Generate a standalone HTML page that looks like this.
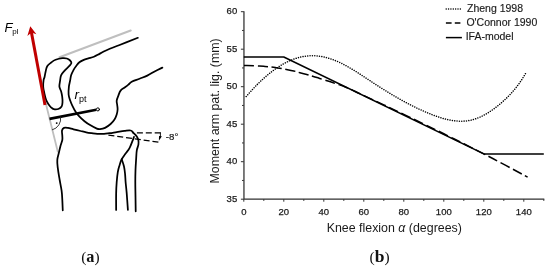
<!DOCTYPE html>
<html lang="en">
<head>
<meta charset="utf-8">
<title>Figure</title>
<style>
html,body{margin:0;padding:0;background:#fff;}
body{width:550px;height:269px;position:relative;overflow:hidden;}
</style>
</head>
<body>
<svg width="550" height="269" viewBox="0 0 550 269" style="position:absolute;left:0;top:0">
<g fill="none" stroke-linecap="round" stroke-linejoin="round">
<line x1="59.5" y1="57.3" x2="130.7" y2="30.6" stroke="#bfbfbf" stroke-width="2.1"/>
<line x1="45.2" y1="101" x2="57.8" y2="151.7" stroke="#bfbfbf" stroke-width="1.8"/>
<g stroke="#000" stroke-width="1.75">
<path d="M43.20 86.70 C43.06 84.29 43.37 81.69 43.60 80.00 C43.83 78.31 44.14 78.79 44.50 77.30 C44.86 75.81 45.11 73.70 45.60 71.70 C46.09 69.70 46.19 67.86 47.20 66.20 C48.21 64.54 49.69 63.65 51.20 62.50 C52.71 61.35 53.60 60.57 55.60 59.80 C57.60 59.03 60.28 58.43 62.30 58.20 C64.32 57.97 65.40 58.09 66.80 58.50 C68.20 58.91 69.27 59.69 70.10 60.50 C70.93 61.31 71.49 62.08 71.40 63.00 C71.31 63.92 70.73 64.32 69.60 65.60 C68.47 66.88 66.61 68.39 65.10 70.10 C63.59 71.81 62.10 73.19 61.20 75.10 C60.30 77.01 60.42 78.61 60.10 80.70 C59.78 82.79 59.22 84.81 59.40 86.70 C59.58 88.59 60.60 89.40 61.10 91.20 C61.60 93.00 61.95 94.70 62.20 96.70 C62.45 98.70 62.61 100.54 62.50 102.30 C62.39 104.06 62.36 105.29 61.60 106.50 C60.84 107.71 59.70 108.51 58.30 109.00 C56.90 109.49 55.11 109.51 53.80 109.20 C52.49 108.89 51.99 108.24 51.00 107.30 C50.01 106.36 49.20 105.40 48.30 104.00 C47.40 102.60 46.70 101.41 46.00 99.50 C45.30 97.59 44.90 95.70 44.40 93.40 C43.90 91.10 43.34 89.11 43.20 86.70Z"/>
<path d="M137.90 37.80 C134.50 39.13 124.74 42.91 119.00 45.20 C113.26 47.49 109.51 48.93 106.00 50.50 C102.49 52.07 101.68 52.78 99.50 53.90 C97.32 55.02 95.92 55.89 93.90 56.70 C91.88 57.51 90.12 57.83 88.30 58.40 C86.48 58.97 85.40 59.15 83.80 59.85 C82.20 60.55 80.80 61.16 79.40 62.30 C78.00 63.44 77.04 64.85 76.00 66.20 C74.96 67.55 74.46 68.20 73.60 69.80 C72.74 71.40 71.83 73.14 71.20 75.10 C70.57 77.06 70.51 78.61 70.10 80.70 C69.69 82.79 69.17 84.22 68.90 86.70 C68.63 89.18 68.37 92.02 68.60 94.50 C68.83 96.98 69.53 98.50 70.20 100.50 C70.87 102.50 71.33 103.58 72.30 105.60 C73.27 107.62 74.30 109.70 75.60 111.70 C76.90 113.70 77.90 114.99 79.50 116.70 C81.10 118.41 82.59 119.69 84.50 121.20 C86.41 122.71 87.89 123.77 90.10 125.10 C92.31 126.43 95.02 127.88 96.80 128.60 C98.58 129.32 98.52 129.23 100.00 129.10 C101.48 128.97 103.09 128.82 105.00 127.90 C106.91 126.98 108.89 125.51 110.60 124.00 C112.31 122.49 113.40 121.21 114.50 119.50 C115.60 117.79 116.14 116.30 116.70 114.50 C117.26 112.70 117.51 111.21 117.60 109.50 C117.69 107.79 117.36 106.60 117.20 105.00 C117.04 103.40 116.48 102.29 116.70 100.60 C116.92 98.91 117.70 97.40 118.40 95.60 C119.10 93.80 119.41 92.09 120.60 90.60 C121.79 89.11 123.60 88.38 125.00 87.30 C126.40 86.22 127.19 85.61 128.40 84.60 C129.61 83.59 129.70 82.76 131.70 81.70 C133.70 80.64 136.69 79.80 139.50 78.70 C142.31 77.60 144.49 76.95 147.30 75.60 C150.11 74.25 152.38 72.64 155.10 71.20 C157.82 69.76 161.09 68.25 162.40 67.60"/>
<path d="M62.75 210.30 C62.67 208.37 62.51 203.13 62.30 199.60 C62.09 196.07 62.09 194.32 61.60 190.70 C61.11 187.08 60.27 183.51 59.60 179.50 C58.93 175.49 58.26 171.91 57.85 168.40 C57.44 164.89 57.09 162.90 57.30 160.00 C57.51 157.10 58.41 154.89 59.00 152.30 C59.59 149.71 60.01 147.81 60.60 145.60 C61.19 143.39 61.99 141.80 62.30 140.00 C62.61 138.20 62.35 137.31 62.30 135.60 C62.25 133.89 61.69 131.89 62.00 130.50 C62.31 129.11 62.94 128.37 64.00 127.90 C65.06 127.43 66.19 127.65 67.90 127.90 C69.61 128.15 71.21 128.74 73.50 129.30 C75.79 129.86 78.31 130.46 80.60 131.00 C82.89 131.54 84.20 131.90 86.20 132.30 C88.20 132.70 89.70 132.91 91.70 133.20 C93.70 133.49 95.09 133.77 97.30 133.90 C99.51 134.03 101.79 134.03 104.00 133.90 C106.21 133.77 107.31 133.52 109.60 133.20 C111.89 132.88 114.02 132.51 116.70 132.10 C119.38 131.69 122.00 131.19 124.50 130.90 C127.00 130.61 129.00 130.16 130.60 130.50 C132.20 130.84 132.28 131.74 133.40 132.80 C134.52 133.86 135.90 135.05 136.80 136.40 C137.70 137.75 138.11 138.81 138.40 140.30 C138.69 141.79 138.69 142.90 138.40 144.70 C138.11 146.50 137.20 147.91 136.80 150.30 C136.40 152.69 136.43 154.45 136.20 158.00 C135.97 161.55 135.66 165.68 135.50 170.00 C135.34 174.32 135.30 177.14 135.30 182.00 C135.30 186.86 135.43 191.73 135.50 197.00 C135.57 202.27 135.66 208.73 135.70 211.30"/>
<path d="M134.00 136.90 C133.69 137.71 133.11 139.38 132.30 141.40 C131.49 143.42 130.71 145.90 129.50 148.10 C128.29 150.30 127.00 151.59 125.60 153.60 C124.20 155.61 122.80 157.13 121.70 159.25 C120.60 161.37 120.20 163.09 119.50 165.40 C118.80 167.71 118.30 169.11 117.80 172.10 C117.30 175.09 117.00 178.21 116.70 182.00 C116.40 185.79 116.25 188.13 116.15 193.15 C116.05 198.17 116.15 206.89 116.15 209.90"/>
<path d="M121.70 159.25 C122.11 160.56 123.39 163.79 124.00 166.50 C124.61 169.21 124.81 171.51 125.10 174.30 C125.39 177.09 125.31 178.61 125.60 182.00 C125.89 185.39 126.29 188.13 126.70 193.15 C127.11 198.17 127.68 206.89 127.90 209.90"/>
</g>
<line x1="49.5" y1="118.9" x2="96.3" y2="109.7" stroke="#000" stroke-width="2.7" stroke-linecap="butt"/>
<circle cx="97.9" cy="109.4" r="1.55" stroke="#000" stroke-width="1" fill="#fff"/>
<path d="M52.4 129.8 A11.2 11.2 0 0 0 60.6 117" stroke="#222" stroke-width="0.9"/>
<circle cx="56.7" cy="123.1" r="0.95" fill="#000" stroke="none"/>
<g stroke="#000" stroke-width="1.35" stroke-dasharray="6 2.9" stroke-linecap="butt">
<line x1="160.7" y1="132.8" x2="132.5" y2="132.8"/>
<line x1="158.4" y1="142.2" x2="106" y2="134.7"/>
</g>
<line x1="160.4" y1="132.8" x2="160.4" y2="137" stroke="#000" stroke-width="0.9"/>
<path d="M159 135.9 L161.9 136.3 L158.9 140.7Z" fill="#000" stroke="none"/>
<line x1="45.0" y1="105" x2="30.96" y2="30" stroke="#c00000" stroke-width="3" stroke-linecap="butt"/>
</g>
<path d="M30.25 26.30 L36.43 34.30 L31.43 32.59 L27.38 35.99 Z" fill="#c00000"/>
<g stroke="#303030" stroke-width="1.25" fill="none" stroke-linecap="butt">
<path d="M243.95 11.20 L243.95 199.20 L544.30 199.20"/>
<path d="M243.80 199.20 h-2.90 M243.80 180.45 h-1.80 M243.80 161.70 h-2.90 M243.80 142.95 h-1.80 M243.80 124.20 h-2.90 M243.80 105.45 h-1.80 M243.80 86.70 h-2.90 M243.80 67.95 h-1.80 M243.80 49.20 h-2.90 M243.80 30.45 h-1.80 M243.80 11.70 h-2.90 M243.80 199.20 v2.50 M263.80 199.20 v1.70 M283.80 199.20 v2.50 M303.80 199.20 v1.70 M323.80 199.20 v2.50 M343.80 199.20 v1.70 M363.80 199.20 v2.50 M383.80 199.20 v1.70 M403.80 199.20 v2.50 M423.80 199.20 v1.70 M443.80 199.20 v2.50 M463.80 199.20 v1.70 M483.80 199.20 v2.50 M503.80 199.20 v1.70 M523.80 199.20 v2.50 M543.80 199.20 v1.70 " stroke-width="1"/>
</g>
<g fill="none" stroke="#000" stroke-linejoin="round">
<path d="M243.80 57.00 L283.80 57.00 L483.80 153.90 L543.80 153.90" stroke-width="1.5"/>
<path d="M244.00 65.40 C247.67 65.53 248.00 65.45 255.00 65.80 C262.00 66.15 257.50 65.75 265.00 66.45 C272.50 67.15 268.83 66.58 277.50 67.90 C286.17 69.22 283.53 68.80 291.00 70.40 C298.47 72.00 294.07 71.17 299.90 72.70 C305.73 74.23 304.00 73.73 308.50 75.00 C313.00 76.27 308.90 75.10 313.40 76.50 C317.90 77.90 314.63 76.83 322.00 79.20 C329.37 81.57 326.90 80.63 335.50 83.60 C344.10 86.57 338.37 84.12 347.80 88.10 C357.23 92.08 351.80 89.95 363.80 95.53 C375.80 101.12 370.47 98.56 383.80 104.85 C397.13 111.13 390.47 107.98 403.80 114.39 C417.13 120.80 410.47 117.62 423.80 124.08 C437.13 130.54 430.47 127.21 443.80 133.77 C457.13 140.33 450.47 137.05 463.80 143.76 C477.13 150.47 469.80 146.67 483.80 153.90 C497.80 161.13 491.20 157.71 505.80 165.46 C520.40 173.21 520.33 173.25 527.60 177.15" stroke-width="1.5" stroke-dasharray="10.1 3.75"/>
<path d="M246.20 96.54 L249.20 93.08 L252.20 89.76 L255.20 86.58 L258.20 83.55 L261.20 80.65 L264.20 77.90 L267.20 75.30 L270.20 72.85 L273.20 70.56 L276.20 68.42 L279.20 66.43 L282.20 64.61 L285.20 62.95 L288.20 61.45 L291.20 60.12 L294.20 58.95 L297.20 57.96 L300.20 57.15 L303.20 56.51 L306.20 56.04 L309.20 55.76 L312.20 55.66 L315.20 55.75 L318.20 56.01 L321.20 56.45 L324.20 57.05 L327.20 57.81 L330.20 58.72 L333.20 59.77 L336.20 60.96 L339.20 62.28 L342.20 63.73 L345.20 65.28 L348.20 66.94 L351.20 68.68 L354.20 70.49 L357.20 72.37 L360.20 74.29 L363.20 76.25 L366.20 78.22 L369.20 80.21 L372.20 82.19 L375.20 84.15 L378.20 86.09 L381.20 88.00 L384.20 89.88 L387.20 91.74 L390.20 93.56 L393.20 95.35 L396.20 97.10 L399.20 98.82 L402.20 100.49 L405.20 102.13 L408.20 103.72 L411.20 105.27 L414.20 106.77 L417.20 108.23 L420.20 109.63 L423.20 110.98 L426.20 112.28 L429.20 113.53 L432.20 114.71 L435.20 115.84 L438.20 116.89 L441.20 117.86 L444.20 118.74 L447.20 119.50 L450.20 120.14 L453.20 120.65 L456.20 121.00 L459.20 121.20 L462.20 121.22 L465.20 121.05 L468.20 120.69 L471.20 120.11 L474.20 119.30 L477.20 118.27 L480.20 117.03 L483.20 115.58 L486.20 113.92 L489.20 112.08 L492.20 110.06 L495.20 107.86 L498.20 105.49 L501.20 102.97 L504.20 100.30 L507.20 97.47 L510.20 94.41 L513.20 91.09 L516.20 87.44 L519.20 83.43 L522.20 78.98 L525.20 74.06 L525.50 73.54" stroke-width="1.5" stroke-linecap="round" stroke-dasharray="0.01 2.35"/>
<line x1="446.2" y1="9" x2="461.9" y2="9" stroke-width="1.5" stroke-linecap="round" stroke-dasharray="0.01 2.35"/>
<line x1="445.9" y1="23.1" x2="460.4" y2="23.1" stroke-width="1.5" stroke-dasharray="5.7 3.2"/>
<line x1="445.9" y1="37.6" x2="461.9" y2="37.6" stroke-width="1.5"/>
</g>
<g font-family="&quot;Liberation Sans&quot;, sans-serif" fill="#1a1a1a">
<g font-size="9.5px" text-anchor="end" stroke="#1a1a1a" stroke-width="0.25">
<text x="237.2" y="201.95">35</text>
<text x="237.2" y="164.45">40</text>
<text x="237.2" y="126.95">45</text>
<text x="237.2" y="89.45">50</text>
<text x="237.2" y="51.95">55</text>
<text x="237.2" y="14.45">60</text>
</g>
<g font-size="9.5px" text-anchor="middle" stroke="#1a1a1a" stroke-width="0.25">
<text x="243.80" y="215.3">0</text>
<text x="283.80" y="215.3">20</text>
<text x="323.80" y="215.3">40</text>
<text x="363.80" y="215.3">60</text>
<text x="403.80" y="215.3">80</text>
<text x="443.80" y="215.3">100</text>
<text x="483.80" y="215.3">120</text>
<text x="523.80" y="215.3">140</text>
</g>
<text x="394.3" y="231.8" font-size="12.4px" text-anchor="middle">Knee flexion <tspan font-style="italic">α</tspan> (degrees)</text>
<text transform="translate(219.2 110.9) rotate(-90)" font-size="12.4px" text-anchor="middle">Moment arm pat. lig. (mm)</text>
<g font-size="10.5px" stroke="#1a1a1a" stroke-width="0.15">
<text x="467" y="11.8">Zheng 1998</text>
<text x="466.4" y="25.8">O'Connor 1990</text>
<text x="465.7" y="40.4">IFA-model</text>
</g>
<text x="165.8" y="140.1" font-size="9.7px" stroke="#1a1a1a" stroke-width="0.2">-8°</text>
<text x="4.6" y="31.5" font-size="13.2px" fill="#000"><tspan font-style="italic">F</tspan><tspan font-size="8px" dy="2.5" dx="-0.5">pl</tspan></text>
<text x="74.6" y="98.9" font-size="13.5px" fill="#000"><tspan font-style="italic">r</tspan><tspan font-size="9px" dy="2.8">pt</tspan></text>
</g>
<g font-family="&quot;Liberation Serif&quot;, serif" font-size="15.5px" fill="#111" text-anchor="middle">
<text x="90.4" y="262">(<tspan font-weight="bold" font-size="16.3px">a</tspan>)</text>
<text x="379.6" y="262">(<tspan font-weight="bold" font-size="17.5px">b</tspan>)</text>
</g>
</svg>
</body>
</html>
